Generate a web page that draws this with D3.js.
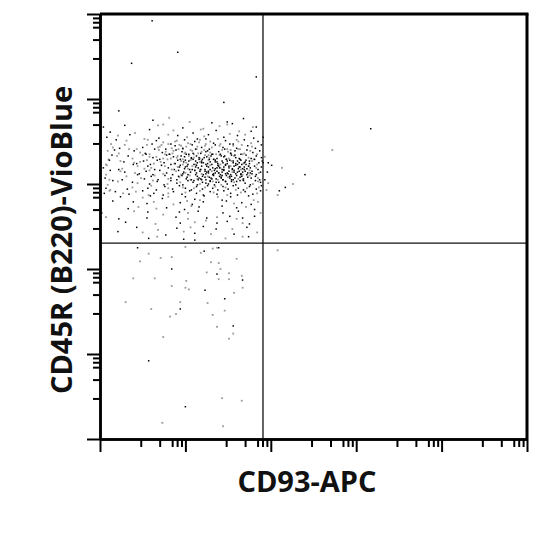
<!DOCTYPE html>
<html><head><meta charset="utf-8">
<script src="https://cdn.jsdelivr.net/npm/d3@7"></script>
<style>body{margin:0;background:#fff}</style>
</head><body><svg id="c" width="540" height="540"></svg>
<script>
// Axis decades (log10 exponents) and minor tick multipliers
const majorExponents = [0, 1, 2, 3, 4, 5];
const minorMultipliers = [3, 5, 7, 8, 9];
const xLabel = "CD93-APC";
const yLabel = "CD45R (B220)-VioBlue";
// Quadrant gate (fluorescence intensity)
const gateCD93 = 81;
const gateCD45R = 202;

// Events: [log10 CD93-APC, log10 CD45R-VioBlue]
const darkEvents = [
[0.62,3.75],[1.31,3.72],[1.68,3.77],
[0.29,3.69],[0.97,3.66],[1.55,3.71],[1.83,3.67],
[0.12,3.61],[0.58,3.64],[1.09,3.60],[1.36,3.63],[1.77,3.62],
[0.08,3.55],[0.35,3.58],[0.69,3.54],[0.91,3.57],[1.14,3.53],[1.27,3.58],[1.45,3.55],[1.61,3.57],[1.80,3.54],
[0.19,3.52],[0.66,3.51],[0.83,3.47],[0.99,3.52],[1.11,3.50],[1.24,3.53],[1.33,3.48],[1.47,3.51],[1.56,3.47],[1.69,3.52],[1.85,3.50],
[0.23,3.42],[0.50,3.43],[0.61,3.47],[0.77,3.41],[0.88,3.45],[0.97,3.42],[1.08,3.46],[1.19,3.43],[1.28,3.41],[1.35,3.46],[1.44,3.43],[1.52,3.47],[1.60,3.42],[1.73,3.45],[1.82,3.42],[1.89,3.46],
[0.17,3.40],[0.40,3.39],[0.53,3.36],[0.64,3.41],[0.73,3.37],[0.81,3.35],[0.89,3.40],[0.96,3.38],[1.04,3.35],[1.12,3.41],[1.18,3.36],[1.26,3.39],[1.32,3.35],[1.39,3.38],[1.46,3.41],[1.53,3.36],[1.58,3.39],[1.65,3.35],[1.72,3.40],[1.79,3.37],[1.87,3.39],
[0.14,3.34],[0.33,3.33],[0.54,3.35],[0.62,3.31],[0.70,3.29],[0.78,3.34],[0.86,3.32],[0.94,3.29],[1.01,3.35],[1.07,3.30],[1.13,3.33],[1.20,3.29],[1.25,3.32],[1.31,3.35],[1.37,3.30],[1.42,3.33],[1.48,3.29],[1.54,3.34],[1.59,3.31],[1.64,3.29],[1.71,3.34],[1.77,3.30],[1.83,3.33],[1.89,3.31],[1.16,3.31],[1.45,3.32],[0.99,3.32],
[0.11,3.28],[0.28,3.26],[0.43,3.24],[0.51,3.27],[0.59,3.23],[0.67,3.28],[0.75,3.25],[0.83,3.23],[0.91,3.28],[0.98,3.26],[1.03,3.23],[1.09,3.29],[1.14,3.25],[1.19,3.27],[1.24,3.23],[1.29,3.26],[1.33,3.29],[1.38,3.24],[1.43,3.27],[1.47,3.23],[1.52,3.28],[1.56,3.25],[1.61,3.23],[1.65,3.28],[1.70,3.26],[1.75,3.24],[1.81,3.29],[1.86,3.25],[1.90,3.27],[1.21,3.25],[1.35,3.26],[1.49,3.27],[1.63,3.25],
[0.04,3.19],[0.22,3.17],[0.39,3.23],[0.56,3.21],[0.64,3.17],[0.72,3.22],[0.80,3.19],[0.87,3.17],[0.94,3.22],[1.00,3.20],[1.05,3.17],[1.10,3.23],[1.15,3.19],[1.19,3.21],[1.23,3.17],[1.27,3.20],[1.31,3.23],[1.35,3.18],[1.39,3.21],[1.43,3.17],[1.47,3.22],[1.51,3.19],[1.55,3.17],[1.59,3.22],[1.63,3.20],[1.67,3.18],[1.71,3.23],[1.76,3.19],[1.81,3.21],[1.85,3.17],[1.89,3.20],[1.25,3.21],[1.37,3.19],[1.45,3.20],[1.57,3.21],[1.12,3.20],[1.69,3.20],
[0.12,3.16],[0.29,3.14],[0.46,3.12],[0.54,3.15],[0.62,3.11],[0.70,3.16],[0.78,3.13],[0.85,3.11],[0.92,3.16],[0.98,3.14],[1.03,3.11],[1.08,3.17],[1.13,3.13],[1.17,3.15],[1.21,3.11],[1.25,3.14],[1.29,3.17],[1.33,3.12],[1.37,3.15],[1.41,3.11],[1.45,3.16],[1.49,3.13],[1.53,3.11],[1.57,3.16],[1.61,3.14],[1.65,3.12],[1.69,3.17],[1.73,3.13],[1.78,3.15],[1.83,3.11],[1.88,3.14],[1.23,3.15],[1.35,3.13],[1.43,3.14],[1.51,3.15],[1.59,3.12],[1.27,3.13],[1.47,3.12],[1.63,3.15],
[0.06,3.07],[0.26,3.05],[0.44,3.11],[0.52,3.06],[0.60,3.09],[0.68,3.05],[0.76,3.10],[0.83,3.07],[0.90,3.05],[0.96,3.10],[1.02,3.08],[1.07,3.05],[1.12,3.11],[1.16,3.07],[1.20,3.09],[1.24,3.05],[1.28,3.08],[1.32,3.11],[1.36,3.06],[1.40,3.09],[1.44,3.05],[1.48,3.10],[1.52,3.07],[1.56,3.05],[1.60,3.10],[1.64,3.08],[1.68,3.06],[1.72,3.11],[1.77,3.07],[1.82,3.09],[1.87,3.05],[1.30,3.07],[1.42,3.08],[1.54,3.09],[1.18,3.06],[1.66,3.09],
[0.15,3.04],[0.38,3.02],[0.58,3.00],[0.67,3.03],[0.75,2.99],[0.83,3.04],[0.90,3.01],[0.97,2.99],[1.03,3.04],[1.09,3.02],[1.14,2.99],[1.19,3.05],[1.24,3.01],[1.29,3.03],[1.34,2.99],[1.39,3.02],[1.44,3.05],[1.49,3.00],[1.54,3.03],[1.59,2.99],[1.64,3.04],[1.70,3.01],[1.76,2.99],[1.82,3.04],[1.88,3.02],[1.27,3.00],[1.47,3.03],
[0.07,2.95],[0.32,2.94],[0.56,2.95],[0.66,2.93],[0.76,2.97],[0.85,2.94],[0.93,2.98],[1.00,2.95],[1.07,2.93],[1.13,2.97],[1.20,2.94],[1.26,2.98],[1.32,2.95],[1.38,2.93],[1.44,2.97],[1.50,2.94],[1.56,2.98],[1.62,2.95],[1.68,2.93],[1.75,2.97],[1.83,2.94],[1.89,2.98],
[0.05,2.89],[0.18,2.91],[0.34,2.88],[0.50,2.92],[0.63,2.89],[0.74,2.87],[0.86,2.91],[0.96,2.88],[1.05,2.92],[1.13,2.89],[1.21,2.87],[1.29,2.91],[1.37,2.88],[1.45,2.92],[1.53,2.89],[1.61,2.87],[1.70,2.91],[1.79,2.88],[1.88,2.92],
[0.24,2.85],[0.59,2.86],[0.73,2.83],[1.00,2.85],[1.11,2.82],[1.22,2.86],[1.43,2.81],[1.53,2.85],[1.74,2.86],
[0.15,2.80],[0.39,2.79],[0.55,2.77],[0.94,2.78],[1.08,2.76],[1.21,2.79],[1.48,2.80],[1.66,2.78],[1.77,2.76],
[0.33,2.71],[0.78,2.72],[0.99,2.70],[1.16,2.73],[1.43,2.74],[1.60,2.72],[1.81,2.70],
[0.02,2.66],[0.56,2.67],[0.93,2.67],[1.15,2.68],[1.44,2.66],[1.62,2.68],
[0.22,2.59],[0.55,2.60],[0.89,2.61],[1.25,2.60],[1.52,2.62],[1.67,2.60],[1.81,2.62],
[0.30,2.55],[0.94,2.54],[1.37,2.54],[1.49,2.56],[1.75,2.53],
[0.43,2.49],[0.90,2.48],[1.36,2.47],[1.72,2.49],[1.21,2.50],
[0.21,2.44],[1.11,2.42],[1.57,2.41],[0.77,2.40],
[0.57,2.36],[0.98,2.35],[1.11,2.34],[1.74,2.38],
[0.88,3.24],[0.92,3.09],[0.95,3.33],[0.99,3.18],[1.01,3.06],[1.04,3.27],[1.06,3.14],[1.09,3.36],[1.10,3.04],[1.13,3.22],[1.14,3.09],[1.16,3.29],[1.18,3.17],[1.20,3.02],[1.22,3.31],[1.23,3.08],[1.26,3.24],[1.27,3.15],[1.29,3.04],[1.30,3.33],[1.32,3.19],[1.33,3.10],[1.35,3.28],[1.36,3.02],[1.38,3.22],[1.39,3.13],[1.41,3.35],[1.42,3.07],[1.44,3.25],[1.45,3.17],[1.47,3.03],[1.48,3.29],[1.50,3.12],[1.51,3.21],[1.53,3.36],[1.54,3.05],[1.56,3.27],[1.57,3.14],[1.59,3.24],[1.60,3.03],[1.62,3.18],[1.63,3.30],[1.65,3.11],[1.66,3.23],[1.68,3.04],[1.70,3.15],[1.71,3.28],[1.73,3.08],[1.74,3.21],[1.76,3.13],
[0.97,3.12],[1.02,3.21],[1.07,3.31],[1.11,3.16],[1.15,3.05],[1.19,3.25],[1.24,3.12],[1.28,3.29],[1.31,3.06],[1.34,3.16],[1.37,3.26],[1.40,3.19],[1.43,3.10],[1.46,3.33],[1.49,3.24],[1.52,3.09],[1.55,3.18],[1.58,3.07],[1.61,3.27],[1.64,3.20],[1.67,3.14],[1.69,3.25],[1.72,3.18],[1.75,3.27],[1.78,3.12],[1.24,3.38],[1.12,3.27],[1.00,3.28],[0.93,3.20],[1.58,3.34],
[0.44,2.25],[1.22,2.21],[1.39,2.25],[0.84,2.00],[1.37,1.94],[1.67,1.87],[1.23,1.75],[1.46,1.65],[0.94,1.53],[1.56,1.33],[0.57,0.92],[1.00,0.38],
[1.91,3.55],[1.97,3.25],[2.01,3.22],[1.96,3.14],[1.93,3.05],[2.17,2.96],[2.10,2.92],[2.40,3.11],[3.17,3.65],[1.91,3.25],
[0.61,4.92],[0.91,4.55],[0.37,4.42],[1.45,3.96],[1.83,4.26],[0.22,3.86],[1.49,3.73],[0.04,3.67]
];
const lightEvents = [
[1.05,3.73],[1.49,3.70],
[0.74,3.70],[1.21,3.65],[1.40,3.68],
[0.41,3.60],[0.86,3.63],[1.18,3.64],[1.52,3.59],[1.63,3.62],
[0.21,3.57],[0.52,3.53],[0.80,3.58],[1.02,3.55],[1.22,3.56],[1.38,3.53],[1.70,3.58],
[0.13,3.47],[0.31,3.51],[0.56,3.52],[0.74,3.49],[0.90,3.51],[1.06,3.47],[1.17,3.52],[1.29,3.50],[1.41,3.47],[1.62,3.50],[1.77,3.48],
[0.15,3.43],[0.29,3.46],[0.43,3.41],[0.55,3.46],[0.68,3.43],[0.72,3.46],[0.84,3.42],[0.93,3.46],[1.01,3.44],[1.13,3.41],[1.23,3.45],[1.31,3.43],[1.40,3.45],[1.49,3.41],[1.66,3.46],[1.78,3.44],
[0.09,3.39],[0.22,3.36],[0.34,3.41],[0.47,3.37],[0.58,3.35],[0.69,3.40],[0.77,3.38],[0.85,3.36],[0.92,3.41],[1.00,3.37],[1.08,3.39],[1.15,3.36],[1.22,3.40],[1.29,3.37],[1.36,3.35],[1.43,3.40],[1.50,3.38],[1.62,3.41],[1.69,3.36],[1.76,3.39],[1.84,3.35],
[0.10,3.29],[0.20,3.33],[0.38,3.30],[0.50,3.34],[0.66,3.32],[0.74,3.30],[0.82,3.35],[0.90,3.31],[0.97,3.29],[1.04,3.33],[1.10,3.35],[1.17,3.30],[1.23,3.34],[1.28,3.31],[1.34,3.29],[1.40,3.34],[1.51,3.30],[1.57,3.33],[1.67,3.35],[1.74,3.31],[1.80,3.29],[0.58,3.32],
[0.07,3.23],[0.24,3.27],[0.40,3.25],[0.55,3.28],[0.63,3.24],[0.71,3.26],[0.79,3.29],[0.87,3.24],[0.95,3.27],[1.01,3.25],[1.06,3.28],[1.12,3.23],[1.17,3.26],[1.27,3.28],[1.41,3.23],[1.54,3.27],[1.68,3.24],[1.78,3.27],[1.84,3.23],[0.47,3.26],
[0.08,3.22],[0.26,3.18],[0.44,3.21],[0.60,3.19],[0.76,3.21],[0.84,3.17],[0.91,3.20],[0.97,3.23],[1.03,3.18],[1.08,3.21],[1.17,3.17],[1.29,3.22],[1.41,3.19],[1.53,3.21],[1.65,3.17],[1.74,3.21],[1.83,3.19],[0.52,3.18],
[0.07,3.11],[0.24,3.15],[0.41,3.13],[0.58,3.16],[0.74,3.12],[0.89,3.15],[1.00,3.13],[1.11,3.16],[1.19,3.12],[1.31,3.15],[1.39,3.13],[1.55,3.14],[1.67,3.11],[1.75,3.16],[1.86,3.13],[0.95,3.11],
[0.11,3.05],[0.31,3.09],[0.48,3.07],[0.64,3.10],[0.80,3.06],[0.93,3.08],[1.05,3.10],[1.14,3.06],[1.26,3.09],[1.38,3.05],[1.50,3.08],[1.62,3.06],[1.75,3.10],[1.85,3.07],
[0.09,2.99],[0.21,3.03],[0.44,3.01],[0.62,3.04],[0.79,3.00],[0.94,3.02],[1.06,3.05],[1.17,3.00],[1.32,3.03],[1.42,2.99],[1.57,3.02],[1.67,3.05],[1.79,3.00],[1.85,3.03],
[0.12,2.93],[0.38,2.96],[0.60,2.98],[0.80,2.95],[0.97,2.96],[1.10,2.95],[1.23,2.96],[1.35,2.97],[1.47,2.96],[1.59,2.93],[1.72,2.95],[1.86,2.96],
[0.11,2.92],[0.27,2.89],[0.42,2.91],[0.57,2.87],[0.80,2.89],[1.00,2.90],[1.17,2.92],[1.33,2.90],[1.49,2.87],[1.65,2.90],[1.84,2.89],
[0.50,2.84],[0.80,2.85],[1.17,2.81],[1.38,2.85],[1.80,2.81],
[0.63,2.79],[0.86,2.76],[1.02,2.80],[1.57,2.77],[1.85,2.79],
[0.45,2.73],[0.66,2.71],[1.07,2.74],[1.71,2.73],
[0.40,2.68],[0.74,2.64],[1.03,2.66],[1.88,2.66],
[0.07,2.61],[1.03,2.59],[1.37,2.61],[1.60,2.59],
[0.65,2.53],[1.11,2.55],[1.24,2.57],[1.67,2.54],
[0.68,2.46],[1.06,2.49],[1.55,2.47],
[0.50,2.43],[0.98,2.44],[1.30,2.41],[1.84,2.43],
[0.67,2.38],[1.47,2.36],[1.67,2.38],
[0.70,3.44],[0.76,3.35],[0.80,3.47],[0.86,3.39],[0.91,3.33],[0.95,3.45],[0.99,3.36],[1.03,3.48],[1.06,3.40],[1.10,3.31],[1.14,3.44],[1.19,3.38],[1.24,3.47],[1.27,3.34],[0.83,3.30],[0.88,3.50],[1.56,3.45],[1.60,3.52],[1.64,3.41],[1.53,3.40],[0.97,3.41],[1.16,3.49],
[0.57,2.18],[0.71,2.13],[0.84,2.14],[1.00,2.26],[1.18,2.19],[1.32,2.24],[1.37,2.25],[0.47,2.09],[1.30,2.08],[1.39,2.07],[1.60,2.12],[1.41,2.00],[1.25,1.96],[1.51,1.95],[1.66,1.92],[0.39,1.89],[0.64,1.89],[1.39,1.88],[1.51,1.88],[1.01,1.86],[0.84,1.80],[1.00,1.78],[1.04,1.76],[1.67,1.78],[1.57,1.72],[0.30,1.61],[0.94,1.61],[1.26,1.60],[0.60,1.53],[1.46,1.51],[0.89,1.47],[0.82,1.44],[1.32,1.46],[1.37,1.32],[1.56,1.24],[1.51,1.18],[0.74,1.20],[1.43,0.48],[1.66,0.45],[0.73,0.19],[1.44,0.15],
[2.13,3.19],[1.97,3.01],[2.26,3.00],[2.08,2.87],[2.72,3.40],[2.08,2.22],[1.93,3.32],[1.95,2.93],
[0.81,3.78],[0.68,3.69],[1.79,3.67]
];

const svg = d3.select("#c");
const x = d3.scaleLog().domain([1, 1e5]).range([100, 527]);
const y = d3.scaleLog().domain([1, 1e5]).range([439, 14]);

const majors = majorExponents.map(e => Math.pow(10, e));
const minors = [];
majorExponents.slice(0, -1).forEach(e => minorMultipliers.forEach(m => minors.push(m * Math.pow(10, e))));

function drawEvents(data, color, s) {
  svg.append("g").selectAll("rect").data(data).join("rect")
    .attr("x", d => x(Math.pow(10, d[0])) - s / 2)
    .attr("y", d => y(Math.pow(10, d[1])) - s / 2)
    .attr("width", s).attr("height", s)
    .attr("fill", color);
}
drawEvents(lightEvents, "#9a9a9a", 1.8);
drawEvents(darkEvents, "#000", 1.5);

// quadrant lines
svg.append("line").attr("x1", x(gateCD93)).attr("x2", x(gateCD93))
  .attr("y1", y(1e5)).attr("y2", y(1)).attr("stroke", "#111").attr("stroke-width", 1.3);
svg.append("line").attr("x1", x(1)).attr("x2", x(1e5))
  .attr("y1", y(gateCD45R)).attr("y2", y(gateCD45R)).attr("stroke", "#111").attr("stroke-width", 1.3);

// frame top/right
svg.append("line").attr("x1", x(1)).attr("x2", x(1e5) + 1.5).attr("y1", y(1e5)).attr("y2", y(1e5))
  .attr("stroke", "#000").attr("stroke-width", 3);
svg.append("line").attr("x1", x(1e5)).attr("x2", x(1e5)).attr("y1", y(1e5)).attr("y2", y(1))
  .attr("stroke", "#000").attr("stroke-width", 3);

function styleAxis(g, w) {
  g.select(".domain").attr("stroke", "#000").attr("stroke-width", w);
  g.selectAll(".tick line").attr("stroke", "#000").attr("stroke-width", 2);
  g.selectAll(".tick text").remove();
}
const xb = svg.append("g").attr("transform", `translate(0,${y(1)})`);
xb.append("g").call(d3.axisBottom(x).tickValues(minors).tickSize(8).tickSizeOuter(0).tickFormat("")).call(g => styleAxis(g, 2.5));
xb.append("g").call(d3.axisBottom(x).tickValues(majors).tickSize(13).tickSizeOuter(0).tickFormat("")).call(g => styleAxis(g, 2.5));
const yl = svg.append("g").attr("transform", `translate(${x(1)},0)`);
yl.append("g").call(d3.axisLeft(y).tickValues(minors).tickSize(7).tickSizeOuter(0).tickFormat("")).call(g => styleAxis(g, 2.5));
yl.append("g").call(d3.axisLeft(y).tickValues(majors).tickSize(13).tickSizeOuter(0).tickFormat("")).call(g => styleAxis(g, 2.5));

svg.append("text").attr("x", 307).attr("y", 492).attr("text-anchor", "middle")
  .attr("font-family", "'Open Sans', sans-serif").attr("font-weight", 700).attr("font-size", 29)
  .attr("fill", "#111").text(xLabel);
svg.append("text").attr("transform", "translate(72,240) rotate(-90)").attr("text-anchor", "middle")
  .attr("font-family", "'Open Sans', sans-serif").attr("font-weight", 700).attr("font-size", 29)
  .attr("fill", "#111").text(yLabel);
</script></body></html>
